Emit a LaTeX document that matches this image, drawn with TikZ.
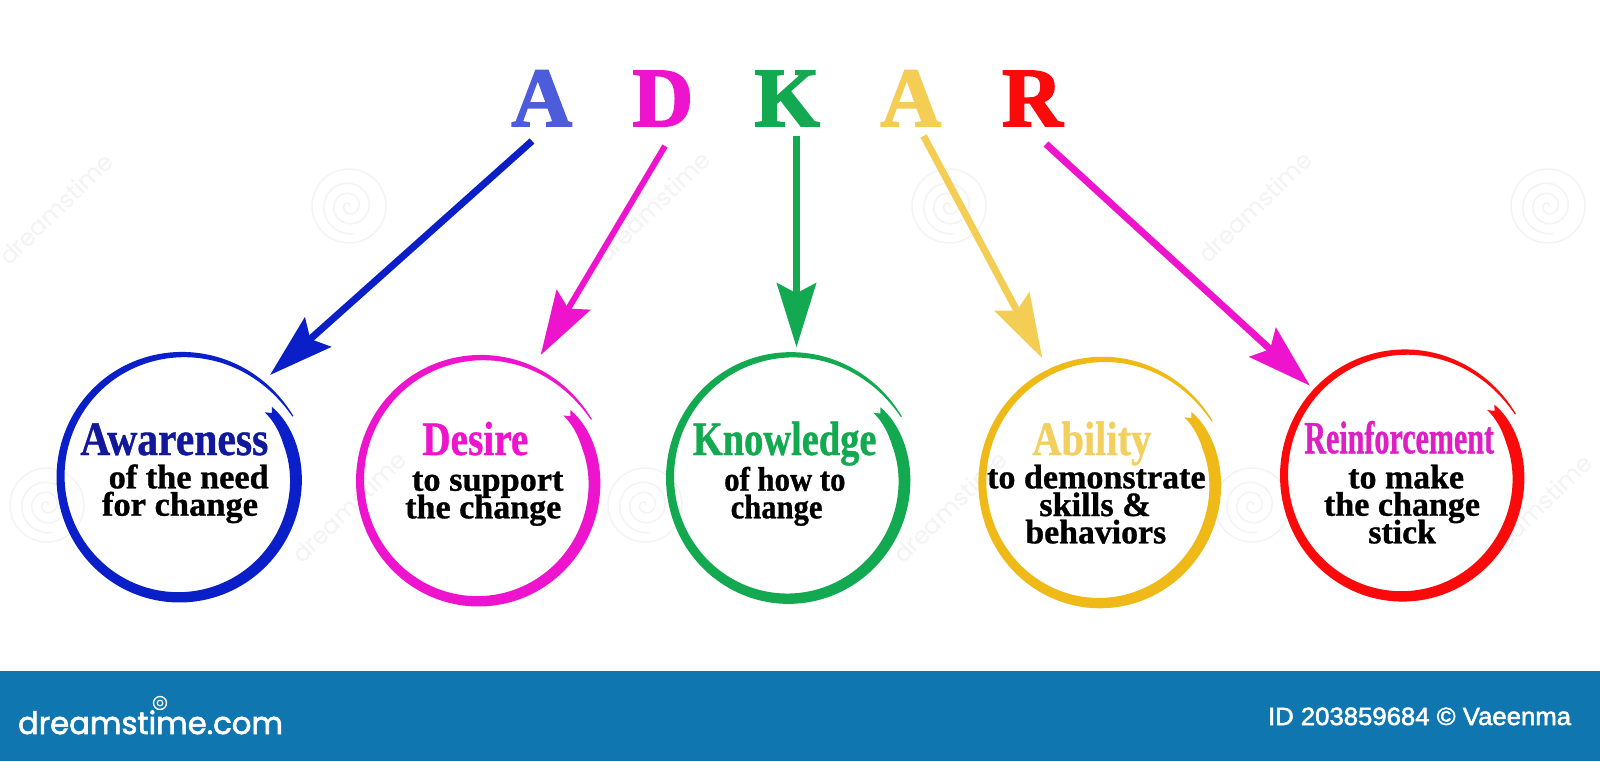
\documentclass[tikz,border=0pt]{standalone}
\usepackage{fontspec}
\usepackage{graphicx}
\setmainfont{Liberation Serif}[BoldFeatures={FakeBold=0.9}]
\newfontfamily\heavyfont{Liberation Serif}[BoldFont={* Bold},UprightFeatures={FakeBold=2.2},BoldFeatures={FakeBold=2.2}]
\newfontfamily\bannerfont{Liberation Sans}[FakeBold=2]
\newfontfamily\logofont{Poppins}
\newfontfamily\logoheavy{Poppins}[FakeBold=2]
\usetikzlibrary{arrows.meta}
\definecolor{cAw}{HTML}{0B1FC8}
\definecolor{cDe}{HTML}{EE14CE}
\definecolor{cKn}{HTML}{13A950}
\definecolor{cAb}{HTML}{EFB918}
\definecolor{cRe}{HTML}{FA0A0A}
\definecolor{lAw}{HTML}{4D5CDB}
\definecolor{lAb}{HTML}{F4CD55}
\definecolor{tAw}{HTML}{12189A}
\definecolor{tRe}{HTML}{DD1FC4}
\definecolor{tAb}{HTML}{F2CF5F}
\definecolor{bannerblue}{HTML}{0F76AF}
\definecolor{wm}{HTML}{F3F3F3}
\tikzset{
  linkarrow/.style={line width=7pt,-{Stealth[length=64pt,width=39pt,inset=10pt]}},
  txt/.style={anchor=base west,inner sep=0pt,outer sep=0pt},
  bigletter/.style={txt,font=\fontsize{84}{84}\selectfont\heavyfont\bfseries},
  wmark/.style={text=wm,font=\fontsize{24}{24}\selectfont\logofont,rotate=44,inner sep=0pt},
  wmspiral/.style={wm,line width=1.5pt},
}
% fitted line of text: width in px, font size in px
\newcommand{\fitline}[3]{\resizebox{#1pt}{\height}{\fontsize{#2}{#2}\selectfont\bfseries #3}}
% hand-drawn ring: centre x, centre y, rx, ry, colour
\newcommand{\ringshape}[5]{%
  \fill[#5] plot[domain=0:369,samples=150,variable=\s]
      ({#1+#3*Ro(\s)*cos(37-\s)},{#2-#4*Ro(\s)*sin(37-\s)})
    -- plot[domain=369:0,samples=150,variable=\s]
      ({#1+#3*(Ro(\s)-Wf(\s))*cos(37-\s)},{#2-#4*(Ro(\s)-Wf(\s))*sin(37-\s)})
    -- ({#1+#3*(Ro(2.5)-.5*Wf(2.5))*cos(34.5)},{#2-#4*(Ro(2.5)-.5*Wf(2.5))*sin(34.5)})
    -- cycle;}
\newcommand{\wmlogo}[2]{%
  \draw[wmspiral] (#1,#2) circle[radius=37];
  \draw[wmspiral] plot[domain=0:1000,samples=120,variable=\s]
    ({#1+.028*\s*cos(\s)},{#2-.028*\s*sin(\s)});}
\begin{document}
\begin{tikzpicture}[x=1pt,y=-1pt,
  declare function={
    Ro(\s)=1-.06*exp(-min(\s,100)/15)+.05*max(0,\s-280)*max(0,\s-280)/8100;
    Wf(\s)=12.5*min(1,(\s+50)/70)*(1-\s/372)^0.5/123;}]
\useasboundingbox (0,0) rectangle (1600,761);
\fill[white] (0,0) rectangle (1600,761);
% watermarks
\wmlogo{349}{206}\wmlogo{949}{206}\wmlogo{1548}{206}
\wmlogo{47}{505}\wmlogo{645}{505}\wmlogo{1252}{505}
\node[wmark] (wm1) at (56,209) {dreamstime};
\node[wmark] (wm2) at (653,207) {dreamstime};
\node[wmark] (wm3) at (1255,207) {dreamstime};
\node[wmark] (wm4) at (349,507) {dreamstime};
\node[wmark] (wm5) at (950,507) {dreamstime};
\node[wmark] (wm6) at (1535,510) {dreamstime};
% banner
\fill[bannerblue] (0,671) rectangle (1600,761);
\node[txt,text=white] (logo) at (18,734) {\resizebox{265pt}{\height}{\fontsize{31}{31}\selectfont\logoheavy dreamstime.com}};
\draw[white,line width=1.4pt] (160,703) circle[radius=6.5];
\draw[white,line width=1.2pt] (160,703) circle[radius=2.8];
\node[txt,text=white] (idtext) at (1268,725) {\resizebox{303pt}{\height}{\fontsize{25}{25}\selectfont\bannerfont ID 203859684 © Vaeenma}};
% title letters
\node[bigletter,text=lAw] (LA) at (511.5,126) {A};
\node[bigletter,text=cDe] (LD) at (632.5,126) {D};
\node[bigletter,text=cKn] (LK) at (754.5,126) {K};
\node[bigletter,text=lAb] (LB) at (880.5,126) {A};
\node[bigletter,text=cRe] (LR) at (1002,126) {R};
% rings
\ringshape{179.5}{477.5}{123}{125}{cAw}
\ringshape{478.5}{481}{122.5}{125.5}{cDe}
\ringshape{788.5}{478.3}{122.5}{125.6}{cKn}
\ringshape{1100}{482.8}{121.7}{125.5}{cAb}
\ringshape{1402.5}{475.8}{122.5}{125.8}{cRe}
% connector ends
\coordinate (sA) at (532,141);   \coordinate (eA) at (270,375);
\coordinate (sD) at (665,146);   \coordinate (eD) at (540.7,355);
\coordinate (sK) at (796.5,136); \coordinate (eK) at (796.5,347.3);
\coordinate (sB) at (923.6,136); \coordinate (eB) at (1042.3,358.3);
\coordinate (sR) at (1046,144);  \coordinate (eR) at (1310,385.7);
\draw[linkarrow,cAw] (sA) -- (eA);
\draw[linkarrow,cDe,line width=6pt] (sD) -- (eD);
\draw[linkarrow,cKn] (sK) -- (eK);
\draw[linkarrow,lAb] (sB) -- (eB);
\draw[linkarrow,cDe] (sR) -- (eR);
% Awareness
\node[txt,text=tAw] (t1a) at (80.3,455) {\fitline{188}{48}{Awareness}};
\node[txt] (t1b) at (108.7,488.3) {\fitline{160}{34}{of the need}};
\node[txt] (t1c) at (102,515.7) {\fitline{156}{34}{for change}};
% Desire
\node[txt,text=cDe] (t2a) at (422.3,455) {\fitline{106}{48}{Desire}};
\node[txt] (t2b) at (412,490.7) {\fitline{151.5}{34}{to support}};
\node[txt] (t2c) at (405.3,518.3) {\fitline{156}{34}{the change}};
% Knowledge
\node[txt,text=cKn] (t3a) at (692.8,455) {\fitline{183.7}{48}{Knowledge}};
\node[txt] (t3b) at (724.2,490.7) {\fitline{121.3}{34}{of how to}};
\node[txt] (t3c) at (730.7,518.3) {\fitline{91.8}{34}{change}};
% Ability
\node[txt,text=tAb] (t4a) at (1032.3,455) {\fitline{119}{48}{Ability}};
\node[txt] (t4b) at (987.1,488.3) {\fitline{218.5}{34}{to demonstrate}};
\node[txt] (t4c) at (1039.2,516) {\fitline{111.7}{34}{skills \&}};
\node[txt] (t4d) at (1025.4,543.3) {\fitline{140.8}{34}{behaviors}};
% Reinforcement
\node[txt,text=tRe] (t5a) at (1304.3,453.3) {\fitline{189.7}{46}{Reinforcement}};
\node[txt] (t5b) at (1348.3,488.3) {\fitline{115.7}{34}{to make}};
\node[txt] (t5c) at (1324,515.7) {\fitline{156}{34}{the change}};
\node[txt] (t5d) at (1368.3,543.3) {\fitline{67.7}{34}{stick}};
\end{tikzpicture}
\end{document}
